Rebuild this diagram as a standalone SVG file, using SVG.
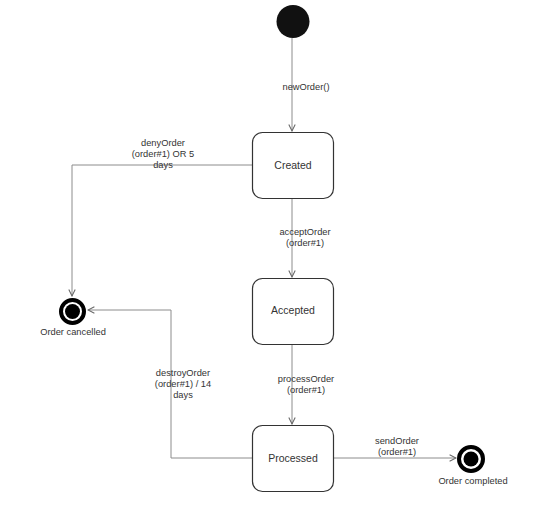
<svg xmlns="http://www.w3.org/2000/svg" width="558" height="524" viewBox="0 0 558 524">
<style>
.state{fill:#fff;stroke:#333;stroke-width:1.2}
.name{font-family:"Liberation Sans",Arial,sans-serif;font-size:10.5px;fill:#333;text-anchor:middle}
.lbl{font-family:"Liberation Sans",Arial,sans-serif;font-size:9.3px;fill:#333;text-anchor:middle}
.edge{fill:none;stroke:#8c8c8c;stroke-width:1}
.ring{fill:#fff;stroke:#000;stroke-width:4}
</style>
<defs>
<marker id="arr" viewBox="0 0 10 10" refX="9" refY="5" markerWidth="8" markerHeight="8" markerUnits="userSpaceOnUse" orient="auto">
<path d="M1,1 L9,5 L1,9" fill="none" stroke="#666" stroke-width="1.3"/>
</marker>
</defs>
<rect width="558" height="524" fill="#fff"/>
<g id="connectors">
<path class="edge" d="M292,38 V131" marker-end="url(#arr)"/>
<text class="lbl" x="306" y="90">newOrder()</text>
<path class="edge" d="M252,165 H72 V296" marker-end="url(#arr)"/>
<text class="lbl" x="163" y="146">denyOrder</text>
<text class="lbl" x="163" y="157">(order#1) OR 5</text>
<text class="lbl" x="163" y="168">days</text>
<path class="edge" d="M292,198 V277" marker-end="url(#arr)"/>
<text class="lbl" x="305" y="235">acceptOrder</text>
<text class="lbl" x="305" y="246">(order#1)</text>
<path class="edge" d="M292,344 V424" marker-end="url(#arr)"/>
<text class="lbl" x="306" y="382">processOrder</text>
<text class="lbl" x="306" y="393">(order#1)</text>
<path class="edge" d="M252,458 H171 V310 H88" marker-end="url(#arr)"/>
<text class="lbl" x="183" y="376">destroyOrder</text>
<text class="lbl" x="183" y="387">(order#1) / 14</text>
<text class="lbl" x="183" y="398">days</text>
<path class="edge" d="M334,458 H456" marker-end="url(#arr)"/>
<text class="lbl" x="397" y="444">sendOrder</text>
<text class="lbl" x="397" y="455">(order#1)</text>
</g>
<g id="start">
<circle cx="293" cy="21.5" r="16.5" fill="#111"/>
</g>
<g id="created">
<rect class="state" x="252.5" y="132.5" width="81" height="66" rx="10"/>
<text class="name" x="293" y="169">Created</text>
</g>
<g id="accepted">
<rect class="state" x="252.5" y="278.5" width="81" height="66" rx="10"/>
<text class="name" x="293" y="314">Accepted</text>
</g>
<g id="processed">
<rect class="state" x="252.5" y="425.5" width="81" height="66" rx="10"/>
<text class="name" x="293" y="462">Processed</text>
</g>
<g id="cancelled">
<circle class="ring" cx="72.5" cy="311.5" r="11.5"/>
<circle cx="72.5" cy="311.5" r="7.5" fill="#000"/>
<text class="lbl" x="73" y="335">Order cancelled</text>
</g>
<g id="completed">
<circle class="ring" cx="471" cy="459" r="12"/>
<circle cx="471" cy="459" r="7.5" fill="#000"/>
<text class="lbl" x="473" y="484">Order completed</text>
</g>
</svg>
